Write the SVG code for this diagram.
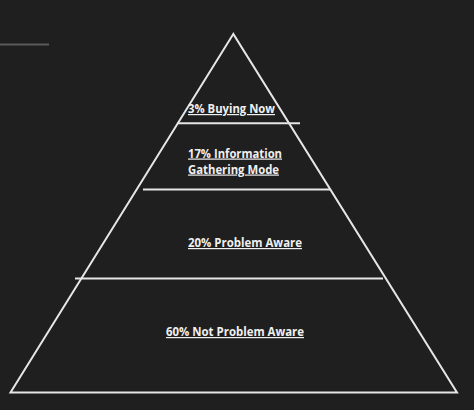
<svg xmlns="http://www.w3.org/2000/svg" width="474" height="410" viewBox="0 0 474 410">
<style>
.ln{stroke:#e6e6e6;stroke-width:2;fill:none;stroke-linecap:butt}
.t{font-family:"Open Sans","Liberation Sans",sans-serif;font-weight:bold;font-size:12px;fill:#f0f0f0;text-decoration:underline}
</style>
<rect width="474" height="410" fill="#201f1f"/>
<line x1="0" y1="44.5" x2="49" y2="44.5" stroke="#5a5a5a" stroke-width="2"/>
<g id="connectors">
<polygon class="ln" points="233.3,34 10.5,392.5 457,392.5" stroke-linejoin="miter"/>
<line class="ln" x1="177" y1="123.3" x2="300" y2="123.3"/>
<line class="ln" x1="143" y1="189.5" x2="330" y2="189.5"/>
<line class="ln" x1="75" y1="278.5" x2="383" y2="278.5"/>
</g>
<g id="tier1"><text class="t" x="188" y="113" textLength="87" lengthAdjust="spacingAndGlyphs">3% Buying Now</text></g>
<g id="tier2"><text class="t" x="188" y="157.5" textLength="94" lengthAdjust="spacingAndGlyphs">17% Information</text><text class="t" x="188" y="173.5" textLength="91" lengthAdjust="spacingAndGlyphs">Gathering Mode</text></g>
<g id="tier3"><text class="t" x="188" y="247" textLength="114" lengthAdjust="spacingAndGlyphs">20% Problem Aware</text></g>
<g id="tier4"><text class="t" x="166" y="336" textLength="138" lengthAdjust="spacingAndGlyphs">60% Not Problem Aware</text></g>
</svg>
